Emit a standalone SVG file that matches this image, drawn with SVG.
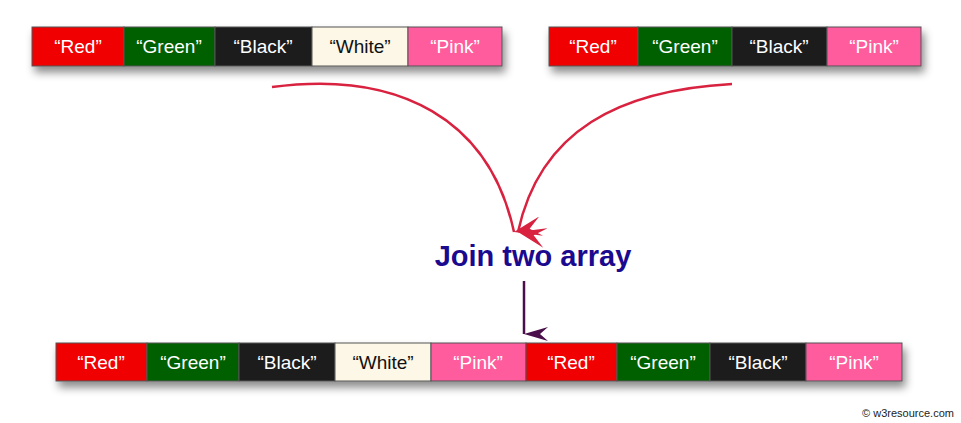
<svg xmlns="http://www.w3.org/2000/svg" width="961" height="423" viewBox="0 0 961 423">
<defs>
<filter id="sh" x="-5%" y="-30%" width="110%" height="190%"><feDropShadow dx="3" dy="6" stdDeviation="4" flood-color="#000" flood-opacity="0.45"/></filter>
<marker id="ah" viewBox="0 0 20 30" refX="10" refY="28" markerWidth="20" markerHeight="30" markerUnits="userSpaceOnUse" orient="auto-start-reverse"><path d="M0 0 L10 28 L20 0 L10 12 Z" fill="#d8223f"/></marker>
<marker id="ap" viewBox="0 0 14 24" refX="7" refY="24" markerWidth="14" markerHeight="24" markerUnits="userSpaceOnUse" orient="auto"><path d="M0 0 L7 24 L14 0 L7 8 Z" fill="#4a0f4a"/></marker>
</defs>
<style>
rect{stroke:#555;stroke-width:1}
text{font-family:"Liberation Sans",Arial,sans-serif;font-size:19px;text-anchor:middle}
.w{fill:#fff}.k{fill:#111}
</style>
<g id="arr1" filter="url(#sh)">
<rect x="32" y="27" width="92" height="39" fill="#f00000"/><rect x="124" y="27" width="91" height="39" fill="#006100"/><rect x="215" y="27" width="97" height="39" fill="#1a1a1a"/><rect x="312" y="27" width="96" height="39" fill="#fdf7e7"/><rect x="408" y="27" width="94" height="39" fill="#ff5b9d"/>
</g>
<g id="arr1t"><text class="w" x="78" y="53">“Red”</text><text class="w" x="169" y="53">“Green”</text><text class="w" x="263" y="53">“Black”</text><text class="k" x="360" y="53">“White”</text><text class="w" x="455" y="53">“Pink”</text></g>
<g id="arr2" filter="url(#sh)">
<rect x="549" y="27" width="89" height="39" fill="#f00000"/><rect x="638" y="27" width="94" height="39" fill="#006100"/><rect x="732" y="27" width="95" height="39" fill="#1a1a1a"/><rect x="827" y="27" width="94" height="39" fill="#ff5b9d"/>
</g>
<g id="arr2t"><text class="w" x="593" y="53">“Red”</text><text class="w" x="685" y="53">“Green”</text><text class="w" x="779" y="53">“Black”</text><text class="w" x="874" y="53">“Pink”</text></g>
<g id="res" filter="url(#sh)">
<rect x="56" y="343" width="91" height="38" fill="#f00000"/><rect x="147" y="343" width="92" height="38" fill="#006100"/><rect x="239" y="343" width="96" height="38" fill="#1a1a1a"/><rect x="335" y="343" width="96" height="38" fill="#fdf7e7"/><rect x="431" y="343" width="95" height="38" fill="#ff5b9d"/>
<rect x="526" y="343" width="91" height="38" fill="#f00000"/><rect x="617" y="343" width="93" height="38" fill="#006100"/><rect x="710" y="343" width="96" height="38" fill="#1a1a1a"/><rect x="806" y="343" width="96" height="38" fill="#ff5b9d"/>
</g>
<g id="rest"><text class="w" x="101" y="369">“Red”</text><text class="w" x="193" y="369">“Green”</text><text class="w" x="287" y="369">“Black”</text><text class="k" x="383" y="369">“White”</text><text class="w" x="478" y="369">“Pink”</text><text class="w" x="571" y="369">“Red”</text><text class="w" x="663" y="369">“Green”</text><text class="w" x="758" y="369">“Black”</text><text class="w" x="854" y="369">“Pink”</text></g>
<g id="connectors" fill="none">
<path d="M272 87 C400 70 490 120 514 232" stroke="#d8223f" stroke-width="2.5" marker-end="url(#ah)"/>
<path d="M732 84 C620 90 540 130 518 232" stroke="#d8223f" stroke-width="2.5" marker-end="url(#ah)"/>
<path d="M524 281 L524 334" stroke="#4a0f4a" stroke-width="2.5" marker-end="url(#ap)"/>
</g>
<g id="label"><text x="533" y="266" style="font-size:29px;font-weight:bold;fill:#1b0a8e">Join two array</text></g>
<text x="908" y="417" style="font-size:11px;fill:#222">© w3resource.com</text>
</svg>
